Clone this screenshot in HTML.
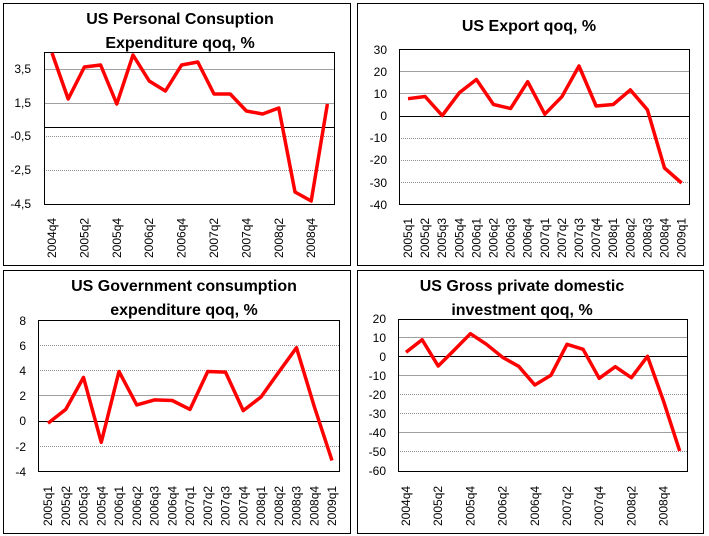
<!DOCTYPE html>
<html><head><style>
body{margin:0;background:#fff;}
svg{display:block;font-family:"Liberation Sans",sans-serif;}
.t{font-weight:bold;font-size:16px;text-anchor:middle;}
.y{font-size:12px;text-anchor:end;}
.x{font-size:12px;text-anchor:start;}
.gs{stroke:#a0a0a0;stroke-width:1;}
.gd{stroke:#909090;stroke-width:1;stroke-dasharray:1,1;}
.s{fill:none;stroke:#ff0000;stroke-width:3.5;stroke-linejoin:round;}
</style></head><body>
<svg width="709" height="536" viewBox="0 0 709 536">
<rect x="0" y="0" width="709" height="536" fill="#fff"/>
<rect x="3.5" y="3.5" width="347" height="262" fill="none" stroke="#000"/>
<rect x="357.5" y="3.5" width="346" height="262" fill="none" stroke="#000"/>
<rect x="3.5" y="270.5" width="347" height="263" fill="none" stroke="#000"/>
<rect x="357.5" y="270.5" width="346" height="263" fill="none" stroke="#000"/>
<g id="p1">
<text class="t" x="180" y="24">US Personal Consuption</text>
<text class="t" x="180" y="48">Expenditure qoq, %</text>
<line class="gs" x1="44" x2="334" y1="69.5" y2="69.5"/>
<line class="gs" x1="44" x2="334" y1="103.5" y2="103.5"/>
<line class="gd" x1="44" x2="334" y1="136.5" y2="136.5"/>
<line class="gd" x1="44" x2="334" y1="170.5" y2="170.5"/>
<line stroke="#000" x1="44" x2="334" y1="127.5" y2="127.5"/>
<rect x="44.5" y="52.5" width="290" height="152" fill="none" stroke="#000"/>
<text class="y" x="31" y="73">3,5</text><text class="y" x="31" y="107">1,5</text><text class="y" x="31" y="140">-0,5</text><text class="y" x="31" y="174">-2,5</text><text class="y" x="31" y="208">-4,5</text>
<polyline class="s" points="52,53 68.2,99 84.4,67 100.6,65 116.8,104 133,55 149.2,81 165.4,91 181.6,65 197.8,62 214,94 230.2,94 246.4,111 262.6,114 278.8,108 295,192 311.2,201 327.4,104"/>
<g class="x">
<text transform="translate(56,258) rotate(-90)">2004q4</text>
<text transform="translate(88.4,258) rotate(-90)">2005q2</text>
<text transform="translate(120.8,258) rotate(-90)">2005q4</text>
<text transform="translate(153.2,258) rotate(-90)">2006q2</text>
<text transform="translate(185.6,258) rotate(-90)">2006q4</text>
<text transform="translate(218,258) rotate(-90)">2007q2</text>
<text transform="translate(250.4,258) rotate(-90)">2007q4</text>
<text transform="translate(282.8,258) rotate(-90)">2008q2</text>
<text transform="translate(315.2,258) rotate(-90)">2008q4</text>
</g></g>
<g id="p2">
<text class="t" x="529" y="31">US Export qoq, %</text>
<line class="gs" x1="399" x2="689" y1="71.5" y2="71.5"/>
<line class="gs" x1="399" x2="689" y1="93.5" y2="93.5"/>
<line class="gd" x1="399" x2="689" y1="138.5" y2="138.5"/>
<line class="gd" x1="399" x2="689" y1="160.5" y2="160.5"/>
<line class="gd" x1="399" x2="689" y1="182.5" y2="182.5"/>
<line stroke="#000" x1="399" x2="689" y1="116.5" y2="116.5"/>
<rect x="399.5" y="49.5" width="290" height="155" fill="none" stroke="#000"/>
<text class="y" x="387" y="54">30</text><text class="y" x="387" y="76">20</text><text class="y" x="387" y="98">10</text><text class="y" x="387" y="120">0</text><text class="y" x="387" y="142">-10</text><text class="y" x="387" y="164">-20</text><text class="y" x="387" y="187">-30</text><text class="y" x="387" y="209">-40</text>
<polyline class="s" points="408,98.7 425.1,96.5 442.2,115.6 459.3,92.8 476.4,79.5 493.5,104.5 510.6,108.5 527.7,81.7 544.8,114.2 561.9,96.7 579,66 596.1,106 613.2,104.5 630.3,89.9 647.4,109.8 664.5,168 681.6,183"/>
<g class="x">
<text transform="translate(412,258) rotate(-90)">2005q1</text>
<text transform="translate(429.1,258) rotate(-90)">2005q2</text>
<text transform="translate(446.2,258) rotate(-90)">2005q3</text>
<text transform="translate(463.3,258) rotate(-90)">2005q4</text>
<text transform="translate(480.4,258) rotate(-90)">2006q1</text>
<text transform="translate(497.5,258) rotate(-90)">2006q2</text>
<text transform="translate(514.6,258) rotate(-90)">2006q3</text>
<text transform="translate(531.7,258) rotate(-90)">2006q4</text>
<text transform="translate(548.8,258) rotate(-90)">2007q1</text>
<text transform="translate(565.9,258) rotate(-90)">2007q2</text>
<text transform="translate(583,258) rotate(-90)">2007q3</text>
<text transform="translate(600.1,258) rotate(-90)">2007q4</text>
<text transform="translate(617.2,258) rotate(-90)">2008q1</text>
<text transform="translate(634.3,258) rotate(-90)">2008q2</text>
<text transform="translate(651.4,258) rotate(-90)">2008q3</text>
<text transform="translate(668.5,258) rotate(-90)">2008q4</text>
<text transform="translate(685.6,258) rotate(-90)">2009q1</text>
</g></g>
<g id="p3">
<text class="t" x="184" y="291">US Government consumption</text>
<text class="t" x="184" y="315">expenditure qoq, %</text>
<line class="gd" x1="38" x2="339" y1="345.5" y2="345.5"/>
<line class="gd" x1="38" x2="339" y1="370.5" y2="370.5"/>
<line class="gs" x1="38" x2="339" y1="395.5" y2="395.5"/>
<line class="gd" x1="38" x2="339" y1="446.5" y2="446.5"/>
<line stroke="#000" x1="38" x2="339" y1="421.5" y2="421.5"/>
<rect x="38.5" y="320.5" width="301" height="151" fill="none" stroke="#000"/>
<text class="y" x="26" y="325">8</text><text class="y" x="26" y="350">6</text><text class="y" x="26" y="375">4</text><text class="y" x="26" y="400">2</text><text class="y" x="26" y="425">0</text><text class="y" x="26" y="451">-2</text><text class="y" x="26" y="476">-4</text>
<polyline class="s" points="48,423.2 65.75,409.4 83.5,377.4 101.25,442.3 119,371.5 136.75,404.9 154.5,399.9 172.25,400.5 190,409.4 207.75,371.5 225.5,372.1 243.25,410.6 261,397 278.75,372.1 296.5,347.7 314.25,406.5 332,460.5"/>
<g class="x">
<text transform="translate(52,526) rotate(-90)">2005q1</text>
<text transform="translate(69.75,526) rotate(-90)">2005q2</text>
<text transform="translate(87.5,526) rotate(-90)">2005q3</text>
<text transform="translate(105.25,526) rotate(-90)">2005q4</text>
<text transform="translate(123,526) rotate(-90)">2006q1</text>
<text transform="translate(140.75,526) rotate(-90)">2006q2</text>
<text transform="translate(158.5,526) rotate(-90)">2006q3</text>
<text transform="translate(176.25,526) rotate(-90)">2006q4</text>
<text transform="translate(194,526) rotate(-90)">2007q1</text>
<text transform="translate(211.75,526) rotate(-90)">2007q2</text>
<text transform="translate(229.5,526) rotate(-90)">2007q3</text>
<text transform="translate(247.25,526) rotate(-90)">2007q4</text>
<text transform="translate(265,526) rotate(-90)">2008q1</text>
<text transform="translate(282.75,526) rotate(-90)">2008q2</text>
<text transform="translate(300.5,526) rotate(-90)">2008q3</text>
<text transform="translate(318.25,526) rotate(-90)">2008q4</text>
<text transform="translate(336,526) rotate(-90)">2009q1</text>
</g></g>
<g id="p4">
<text class="t" x="522" y="291">US Gross private domestic</text>
<text class="t" x="522" y="315">investment qoq, %</text>
<line class="gs" x1="398" x2="687" y1="337.5" y2="337.5"/>
<line class="gs" x1="398" x2="687" y1="375.5" y2="375.5"/>
<line class="gd" x1="398" x2="687" y1="394.5" y2="394.5"/>
<line class="gd" x1="398" x2="687" y1="413.5" y2="413.5"/>
<line class="gs" x1="398" x2="687" y1="432.5" y2="432.5"/>
<line class="gd" x1="398" x2="687" y1="451.5" y2="451.5"/>
<line stroke="#000" x1="398" x2="687" y1="356.5" y2="356.5"/>
<rect x="398.5" y="319.5" width="289" height="152" fill="none" stroke="#000"/>
<text class="y" x="386" y="323">20</text><text class="y" x="386" y="342">10</text><text class="y" x="386" y="361">0</text><text class="y" x="386" y="380">-10</text><text class="y" x="386" y="399">-20</text><text class="y" x="386" y="418">-30</text><text class="y" x="386" y="437">-40</text><text class="y" x="386" y="456">-50</text><text class="y" x="386" y="475">-60</text>
<polyline class="s" points="406,352.3 422.1,339.7 438.2,366 454.3,350 470.4,333.7 486.5,344.3 502.6,357.3 518.7,366.3 534.8,385 550.9,375.3 567,344.3 583.1,349.3 599.2,378.3 615.3,366.7 631.4,377.7 647.5,356.3 663.6,401.3 679.7,451"/>
<g class="x">
<text transform="translate(410,526) rotate(-90)">2004q4</text>
<text transform="translate(442.2,526) rotate(-90)">2005q2</text>
<text transform="translate(474.4,526) rotate(-90)">2005q4</text>
<text transform="translate(506.6,526) rotate(-90)">2006q2</text>
<text transform="translate(538.8,526) rotate(-90)">2006q4</text>
<text transform="translate(571,526) rotate(-90)">2007q2</text>
<text transform="translate(603.2,526) rotate(-90)">2007q4</text>
<text transform="translate(635.4,526) rotate(-90)">2008q2</text>
<text transform="translate(667.6,526) rotate(-90)">2008q4</text>
</g></g>
</svg>
</body></html>
